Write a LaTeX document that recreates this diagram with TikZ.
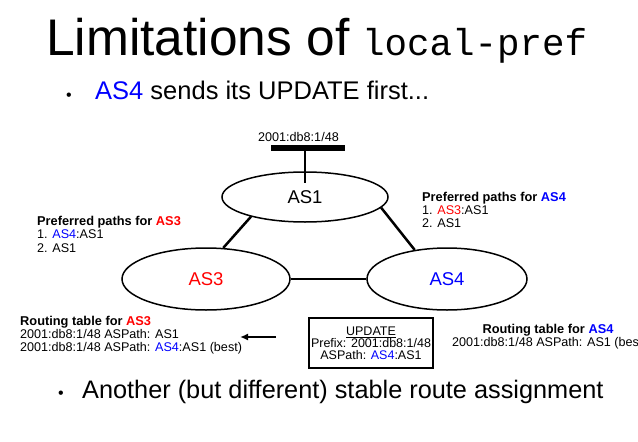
\documentclass[tikz,border=0pt]{standalone}
\usepackage{fontspec}
\setmainfont{Liberation Sans}
\setmonofont{Liberation Mono}
\usetikzlibrary{shapes.geometric,arrows.meta}
\definecolor{asred}{RGB}{255,0,0}
\definecolor{asblue}{RGB}{0,0,255}
\newcommand{\myfs}[1]{\fontsize{#1}{#1}\selectfont}
\newcommand{\rd}[1]{\textcolor{asred}{#1}}
\newcommand{\bl}[1]{\textcolor{asblue}{#1}}
\begin{document}
\begin{tikzpicture}[x=1pt,y=-1pt,
  txt/.style={inner sep=0, anchor=base west, font=\myfs{12.6}},
  hdr/.style={inner sep=0, anchor=base west, font=\myfs{12.8}\bfseries},
  asnode/.style={ellipse, draw, line width=1.5pt, inner sep=0, font=\myfs{18.5}},
  link/.style={line width=2.5pt},
  bul/.style={inner sep=0, anchor=base west}]
\useasboundingbox (0,0) rectangle (638,442);
\clip (0,0) rectangle (638,442);

% title and bullets
\node[bul] (title) at (46,55) {\myfs{51.5}Limitations of};
\node[bul] (titlett) at (362,55) {\myfs{37.5}\ttfamily local-pref};
\node[bul] (b1dot) at (66,100) {\myfs{16}•};
\node[bul] (b1) at (95,99) {\myfs{25.5}\bl{AS4} sends its UPDATE first...};
\node[bul] (b2dot) at (58,398) {\myfs{16}•};
\node[bul] (b2) at (82,398) {\myfs{25.3}Another (but different) stable route assignment};

% prefix attachment
\node[txt] (pfx) at (258,141) {2001:db8:1/48};
\coordinate (barL) at (271,148);
\coordinate (barR) at (345,148);
\coordinate (barM) at (305,148);
\coordinate (stub) at (305,183);
\draw[line width=5.5pt] (barL) -- (barR);
\draw[line width=2pt] (barM) -- (stub);

% AS ellipses
\node[asnode, minimum width=166, minimum height=50] (as1) at (305,197) {AS1};
\node[asnode, minimum width=168, minimum height=62, text=asred] (as3) at (206,279) {AS3};
\node[asnode, minimum width=160, minimum height=62, text=asblue] (as4) at (447,279) {AS4};

\draw[link] (as1.200) -- (as3.61);
\draw[link] (as1.352) -- (as4.138);
\draw[link] (as3.east) -- (as4.west);

% preferred paths AS3
\node[hdr] (pp3h) at (37,225) {Preferred paths for \rd{AS3}};
\node[txt] (pp3a) at (37,238) {1. \bl{AS4}:AS1};
\node[txt] (pp3b) at (37,252) {2. AS1};

% preferred paths AS4
\node[hdr] (pp4h) at (422,201) {Preferred paths for \bl{AS4}};
\node[txt] (pp4a) at (422,214) {1. \rd{AS3}:AS1};
\node[txt] (pp4b) at (422,227) {2. AS1};

% routing table AS3
\node[hdr] (rt3h) at (20,325) {Routing table for \rd{AS3}};
\node[txt] (rt3a) at (20,338) {2001:db8:1/48 ASPath: AS1};
\node[txt] (rt3b) at (20,351) {2001:db8:1/48 ASPath: \bl{AS4}:AS1 (best)};

% arrow
\coordinate (arS) at (276,337);
\coordinate (arE) at (240,337);
\draw[line width=2pt, -{Latex[length=8pt,width=7pt]}] (arS) -- (arE);

% update box
\node[draw, line width=1.2pt, minimum width=124, minimum height=50, inner sep=0,
      align=center, font=\myfs{12.5}, text depth=0] (upd) at (371,343)
  {\underline{UPDATE}\\[-0.5pt] Prefix: 2001:db8:1/48\\[-0.5pt] ASPath: \bl{AS4}:AS1};

% routing table AS4
\node[hdr, anchor=base] (rt4h) at (548,333) {Routing table for \bl{AS4}};
\node[txt] (rt4a) at (452,346) {2001:db8:1/48 ASPath: AS1 (best)};
\end{tikzpicture}
\end{document}
